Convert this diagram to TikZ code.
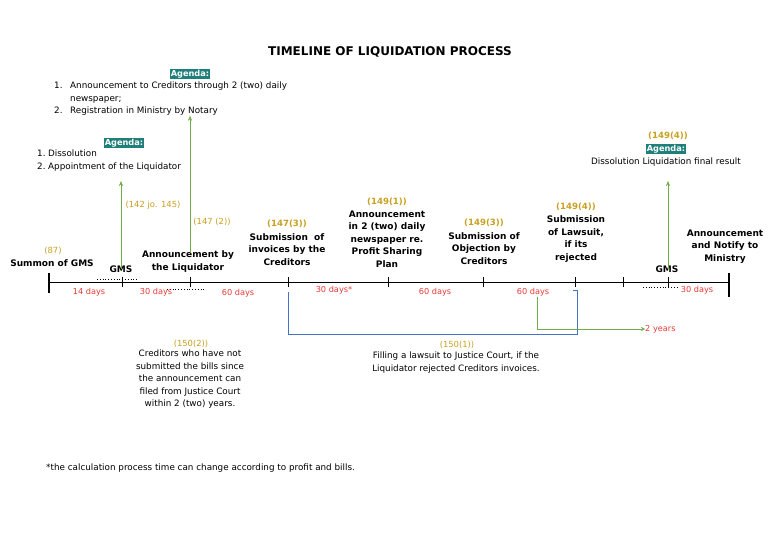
\documentclass[tikz,border=0pt]{standalone}
\usepackage{fontspec}
\setmainfont{DejaVu Sans}
\usetikzlibrary{arrows.meta}

\definecolor{artgold}{HTML}{C9A020}
\definecolor{dayred}{HTML}{E53935}
\definecolor{agteal}{HTML}{1F7F7B}
\definecolor{arrgreen}{HTML}{70AD47}
\definecolor{brblue}{HTML}{4472C4}

\begin{document}
\begin{tikzpicture}[x=1pt,y=-1pt]
	\tikzset{
		lbl/.style = {font=\bfseries\fontsize{9}{12.5}\selectfont, align=center, inner sep=0},
		art/.style = {text=artgold, font=\bfseries\fontsize{8.6}{10}\selectfont, inner sep=0},
		artlight/.style = {text=artgold, font=\fontsize{8.4}{10}\selectfont, inner sep=0},
		days/.style = {text=dayred, font=\fontsize{8.2}{9}\selectfont, inner sep=0},
		agenda/.style = {fill=agteal, text=white, font=\bfseries\fontsize{8.2}{9}\selectfont, inner sep=1.2pt},
		note/.style = {font=\fontsize{8.8}{12.4}\selectfont, inner sep=0},
		tickmark/.style = {line width=1pt},
		up/.style = {draw=arrgreen, -{Stealth[length=5pt,width=4pt]}}
	}

	\useasboundingbox (0,0) rectangle (768,543);

	\node[font=\bfseries\fontsize{12}{14}\selectfont] (title) at (390,52) {TIMELINE OF LIQUIDATION PROCESS};

	% timeline
	\coordinate (t0) at (49,282);
	\coordinate (t1) at (122,282);
	\coordinate (t2) at (190,282);
	\coordinate (t3) at (288,282);
	\coordinate (t4) at (388,282);
	\coordinate (t5) at (483,282);
	\coordinate (t6) at (575,282);
	\coordinate (t7) at (623,282);
	\coordinate (t8) at (668,282);
	\coordinate (t9) at (729,282);

	\draw[line width=1pt] (t0)--(t9);
	\draw[line width=1.3pt] (49,273)--(49,293);
	\draw[line width=1.3pt] (729,273)--(729,297);
	\foreach \p in {t1,t2,t3,t4,t5,t6,t7,t8}
		\draw[tickmark] ([yshift=-5pt]\p)--([yshift=5pt]\p);

	\draw[dotted, thick] (97,279)--(137,279);
	\draw[dotted, thick] (167,289)--(205,289);
	\draw[dotted, thick] (643,287)--(678,287);

	\node[days] (d1) at (89,292) {14 days};
	\node[days] (d2) at (156,292) {30 days};
	\node[days] (d3) at (238,293) {60 days};
	\node[days] (d4) at (334,290) {30 days*};
	\node[days] (d5) at (435,292) {60 days};
	\node[days] (d6) at (533,292) {60 days};
	\node[days] (d7) at (697,290) {30 days};

	% events above the line
	\node[artlight] (a87) at (53,251) {(87)};
	\node[lbl] (summon) at (52,263) {Summon of GMS};
	\node[lbl] (gmsA) at (121,269) {GMS};
	\node[lbl] (annLiq) at (188,261.5) {Announcement by\\the Liquidator};
	\node[art] (a1473) at (287,224) {(147(3))};
	\node[lbl] (invoices) at (287,249.5) {Submission\ \ of\\invoices by the\\Creditors};
	\node[art] (a1491) at (387,202) {(149(1))};
	\node[lbl] (newsp) at (387,239) {Announcement\\in 2 (two) daily\\newspaper re.\\Profit Sharing\\Plan};
	\node[art] (a1493) at (484,223) {(149(3))};
	\node[lbl] (objection) at (484,248.5) {Submission of\\Objection by\\Creditors};
	\node[art] (a1494) at (576,207) {(149(4))};
	\node[lbl] (lawsuit) at (576,239) {Submission\\of Lawsuit,\\if its\\rejected};
	\node[lbl] (gmsB) at (667,269) {GMS};
	\node[lbl] (ministry) at (725,246.5) {Announcement\\and Notify to\\Ministry};

	% agendas
	\node[agenda] (agA) at (190,74) {Agenda:};
	\node[note, anchor=north west, align=left] (listA) at (54,82)
		{\makebox[16pt][l]{1.}Announcement to Creditors through 2 (two) daily\\
		 \makebox[16pt][l]{}newspaper;\\
		 \makebox[16pt][l]{2.}Registration in Ministry by Notary};
	\node[agenda] (agB) at (124,143) {Agenda:};
	\node[note, anchor=north west, align=left] (listB) at (37,150)
		{\makebox[11pt][l]{1.}Dissolution\\
		 \makebox[11pt][l]{2.}Appointment of the Liquidator};
	\node[art] (a1494b) at (668,136) {(149(4))};
	\node[agenda] (agC) at (666,149) {Agenda:};
	\node[note] (final) at (666,162) {Dissolution Liquidation final result};

	\node[artlight] (a142) at (153,205) {(142 jo. 145)};
	\node[artlight] (a1472) at (212,222) {(147 (2))};

	\draw[up] ([yshift=-4pt]gmsA.north) -- (gmsA.north |- 0,181);
	\draw[up] ([yshift=-2pt]annLiq.north -| t2) -- (t2 |- listA.south);
	\draw[up] ([yshift=-4pt]gmsB.north -| t8) -- (t8 |- 0,181);

	% lawsuit bracket and 2 years
	\draw[brblue] (t3) ++(0,10) -- (288,334) -- (577,334) -- (577,290) -- (573,290);
	\coordinate (gstart) at (537,297);
	\node[days, anchor=west] (years) at (645,329) {2 years};
	\draw[draw=arrgreen, -{Stealth[length=4pt,width=4pt]}] (gstart) |- (years.west);

	% notes below
	\node[artlight] (a1502) at (191,344) {(150(2))};
	\node[note, align=center, anchor=north] (bills) at (190,350)
		{Creditors who have not\\submitted the bills since\\the announcement can\\filed from Justice Court\\within 2 (two) years.};
	\node[artlight] (a1501) at (457,345) {(150(1))};
	\node[note, align=center, anchor=north] (court) at (456,352)
		{Filling a lawsuit to Justice Court, if the\\Liquidator rejected Creditors invoices.};

	\node[note, anchor=west] (foot) at (46,468) {*the calculation process time can change according to profit and bills.};
\end{tikzpicture}
\end{document}
